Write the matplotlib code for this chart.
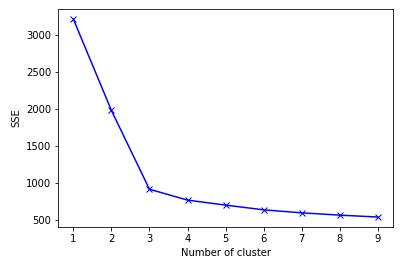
import matplotlib
matplotlib.use("Agg")
import matplotlib.pyplot as plt

# elbow curve values
k_values = [1, 2, 3, 4, 5, 6, 7, 8, 9]
sse = [3222, 1982, 912, 765, 697, 633, 592, 561, 535]

fig = plt.figure(figsize=(412 / 72, 267 / 72), dpi=72)
ax = fig.add_axes([0.141, 0.150, 0.813, 0.816])
ax.plot(k_values, sse, 'bx-')
ax.set_xlabel('Number of cluster')
ax.set_ylabel('SSE')
ax.set_xticks(k_values)

fig.savefig('out.png', dpi=72)
